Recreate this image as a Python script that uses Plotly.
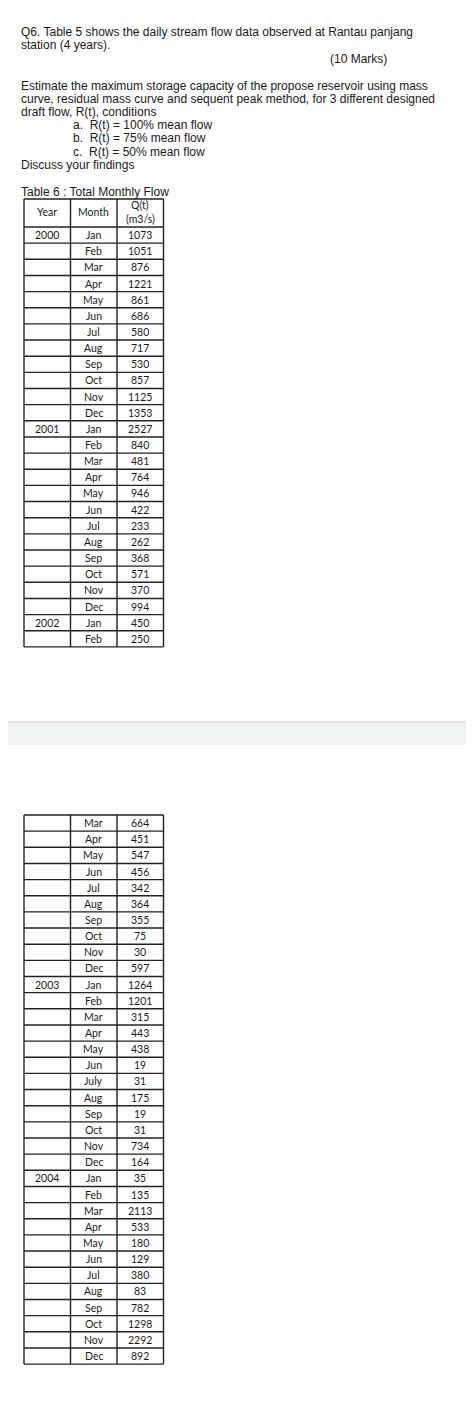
import plotly.graph_objects as go

# monthly flow data
months = ["Jan", "Feb", "Mar", "Apr", "May", "Jun", "Jul", "Aug", "Sep", "Oct", "Nov", "Dec",
          "Jan", "Feb", "Mar", "Apr", "May", "Jun", "Jul", "Aug", "Sep", "Oct", "Nov", "Dec",
          "Jan", "Feb", "Mar", "Apr", "May", "Jun", "Jul", "Aug", "Sep", "Oct", "Nov", "Dec",
          "Jan", "Feb", "Mar", "Apr", "May", "Jun", "July", "Aug", "Sep", "Oct", "Nov", "Dec",
          "Jan", "Feb", "Mar", "Apr", "May", "Jun", "Jul", "Aug", "Sep", "Oct", "Nov", "Dec"]
flows = [1073, 1051, 876, 1221, 861, 686, 580, 717, 530, 857, 1125, 1353,
         2527, 840, 481, 764, 946, 422, 233, 262, 368, 571, 370, 994,
         450, 250, 664, 451, 547, 456, 342, 364, 355, 75, 30, 597,
         1264, 1201, 315, 443, 438, 19, 31, 175, 19, 31, 734, 164,
         35, 135, 2113, 533, 180, 129, 380, 83, 782, 1298, 2292, 892]
years = ["2000", "2001", "2002", "2003", "2004"]
page_split = 26  # rows on first page

question = [
    "Q6. Table 5 shows the daily stream flow data observed at Rantau panjang",
    "station (4 years).",
]
para = [
    "Estimate the maximum storage capacity of the propose reservoir using mass",
    "curve, residual mass curve and sequent peak method, for 3 different designed",
    "draft flow, R(t), conditions",
]
items = ["a.  R(t) = 100% mean flow", "b.  R(t) = 75% mean flow", "c.  R(t) = 50% mean flow"]

W, H = 474, 1406
OFF = 8  # page body margin
fig = go.Figure()
txt_font = dict(family="Liberation Sans, Arial", size=12, color="#1a1a1a")
tab_font = dict(family="Lato, Carlito, sans-serif", size=10.5, color="#1a1a1a")

def text(x, y, s, font, anchor="left"):
    fig.add_annotation(x=x, y=y, text=s, showarrow=False, xanchor=anchor,
                       yanchor="middle", font=font)

for i, s in enumerate(question):
    text(19, 32 + i * 13, s, txt_font)
text(389, 59, "(10 Marks)", txt_font, "right")
for i, s in enumerate(para):
    text(19, 86 + i * 13, s, txt_font)
for i, s in enumerate(items):
    text(71, 125 + i * 13.4, s, txt_font)
text(19, 165, "Discuss your findings", txt_font)
text(19, 192, "Table 6 : Total Monthly Flow", txt_font)

cols = [24, 70.5, 117, 163.5]
centers = [(cols[i] + cols[i + 1]) / 2 for i in range(3)]
rh = 16.15
line = dict(color="#222", width=1.4)

def hline(y):
    fig.add_shape(type="line", x0=cols[0], x1=cols[-1], y0=y, y1=y, line=line)

def vlines(y0, y1):
    for c in cols:
        fig.add_shape(type="line", x0=c, x1=c, y0=y0, y1=y1, line=line)

# header
hdr_top, hdr_bot = 199, 227
hline(hdr_top)
text(centers[0], 212, "Year", tab_font, "center")
text(centers[1], 212, "Month", tab_font, "center")
text(centers[2], 205, "Q(t)", tab_font, "center")
text(centers[2], 219, "(m3/s)", tab_font, "center")

def draw_rows(start, end, top):
    hline(top)
    for k, idx in enumerate(range(start, end)):
        yc = top + (k + 0.5) * rh
        if idx % 12 == 0:
            text(centers[0], yc, years[idx // 12], tab_font, "center")
        text(centers[1], yc, months[idx], tab_font, "center")
        text(centers[2], yc, str(flows[idx]), tab_font, "center")
        hline(top + (k + 1) * rh)
    return top + (end - start) * rh

bot1 = draw_rows(0, page_split, hdr_bot)
vlines(hdr_top, bot1)

# page break band
fig.add_shape(type="rect", x0=-10, x1=W + 20, y0=722, y1=745, fillcolor="#f1f2f4",
              line=dict(width=0), layer="below")
fig.add_shape(type="line", x0=-10, x1=W + 20, y0=722, y1=722, line=dict(color="#dcdde0", width=1.5))

bot2 = draw_rows(page_split, len(flows), 815)
vlines(815, bot2)

fig.update_xaxes(range=[OFF, W + OFF], visible=False, fixedrange=True)
fig.update_yaxes(range=[H + OFF, OFF], visible=False, fixedrange=True)
fig.update_layout(width=W, height=H, margin=dict(l=0, r=0, t=0, b=0),
                  plot_bgcolor="white", paper_bgcolor="white", showlegend=False)
fig.write_html("out.html")
